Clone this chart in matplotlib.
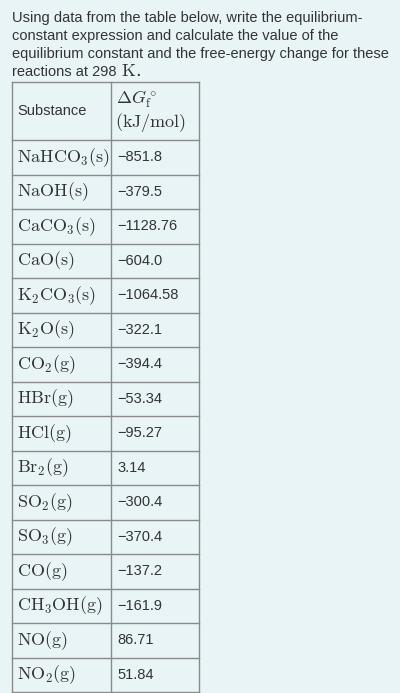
import matplotlib.pyplot as plt
from matplotlib.lines import Line2D

plt.rcParams['mathtext.fontset'] = 'cm'

substances = [r'$\mathrm{NaHCO_3(s)}$', r'$\mathrm{NaOH(s)}$', r'$\mathrm{CaCO_3(s)}$',
              r'$\mathrm{CaO(s)}$', r'$\mathrm{K_2CO_3(s)}$', r'$\mathrm{K_2O(s)}$',
              r'$\mathrm{CO_2(g)}$', r'$\mathrm{HBr(g)}$', r'$\mathrm{HCl(g)}$',
              r'$\mathrm{Br_2(g)}$', r'$\mathrm{SO_2(g)}$', r'$\mathrm{SO_3(g)}$',
              r'$\mathrm{CO(g)}$', r'$\mathrm{CH_3OH(g)}$', r'$\mathrm{NO(g)}$',
              r'$\mathrm{NO_2(g)}$']
values = ['\u2212851.8', '\u2212379.5', '\u22121128.76', '\u2212604.0', '\u22121064.58',
          '\u2212322.1', '\u2212394.4', '\u221253.34', '\u221295.27', '3.14', '\u2212300.4',
          '\u2212370.4', '\u2212137.2', '\u2212161.9', '86.71', '51.84']
intro = ["Using data from the table below, write the equilibrium-",
         "constant expression and calculate the value of the",
         "equilibrium constant and the free-energy change for these"]

W, H = 400, 693
fig = plt.figure(figsize=(W / 100, H / 100), dpi=100)
fig.patch.set_facecolor('#e9f4f7')

def T(x, y, s, **kw):
    fig.text(x / W, 1 - y / H, s, va='center', **kw)

def L(x0, y0, x1, y1):
    fig.add_artist(Line2D([x0 / W, x1 / W], [1 - y0 / H, 1 - y1 / H], color='#8a8a8a', lw=1))

sans = dict(family='Liberation Sans', color='#333333')
for i, s in enumerate(intro):
    T(12, 18 + i * 18, s, fontsize=10.5, **sans)
T(12, 72, 'reactions at 298', fontsize=10.5, **sans)
T(121, 71, r'$\mathrm{K}$.', fontsize=13, color='#333333')

left, mid, right = 12, 111, 199
top, head = 82, 140
rh = (H - 1 - head) / len(substances)
ys = [top, head] + [head + (i + 1) * rh for i in range(len(substances))]
for y in ys:
    L(left, y, right, y)
for x in (left, mid, right):
    L(x, top, x, ys[-1])

T(17, (top + head) / 2, 'Substance', fontsize=10.5, **sans)
T(116, 99, r'$\Delta G_\mathrm{f}^\circ$', fontsize=13, color='#333333')
T(115, 123, r'$\mathrm{(kJ/mol)}$', fontsize=13, color='#333333')
for i, (s, v) in enumerate(zip(substances, values)):
    yc = head + (i + 0.5) * rh
    T(17, yc, s, fontsize=13, color='#333333')
    T(117, yc, v, fontsize=10.5, **sans)

fig.savefig('out.png', dpi=100, facecolor=fig.get_facecolor())
